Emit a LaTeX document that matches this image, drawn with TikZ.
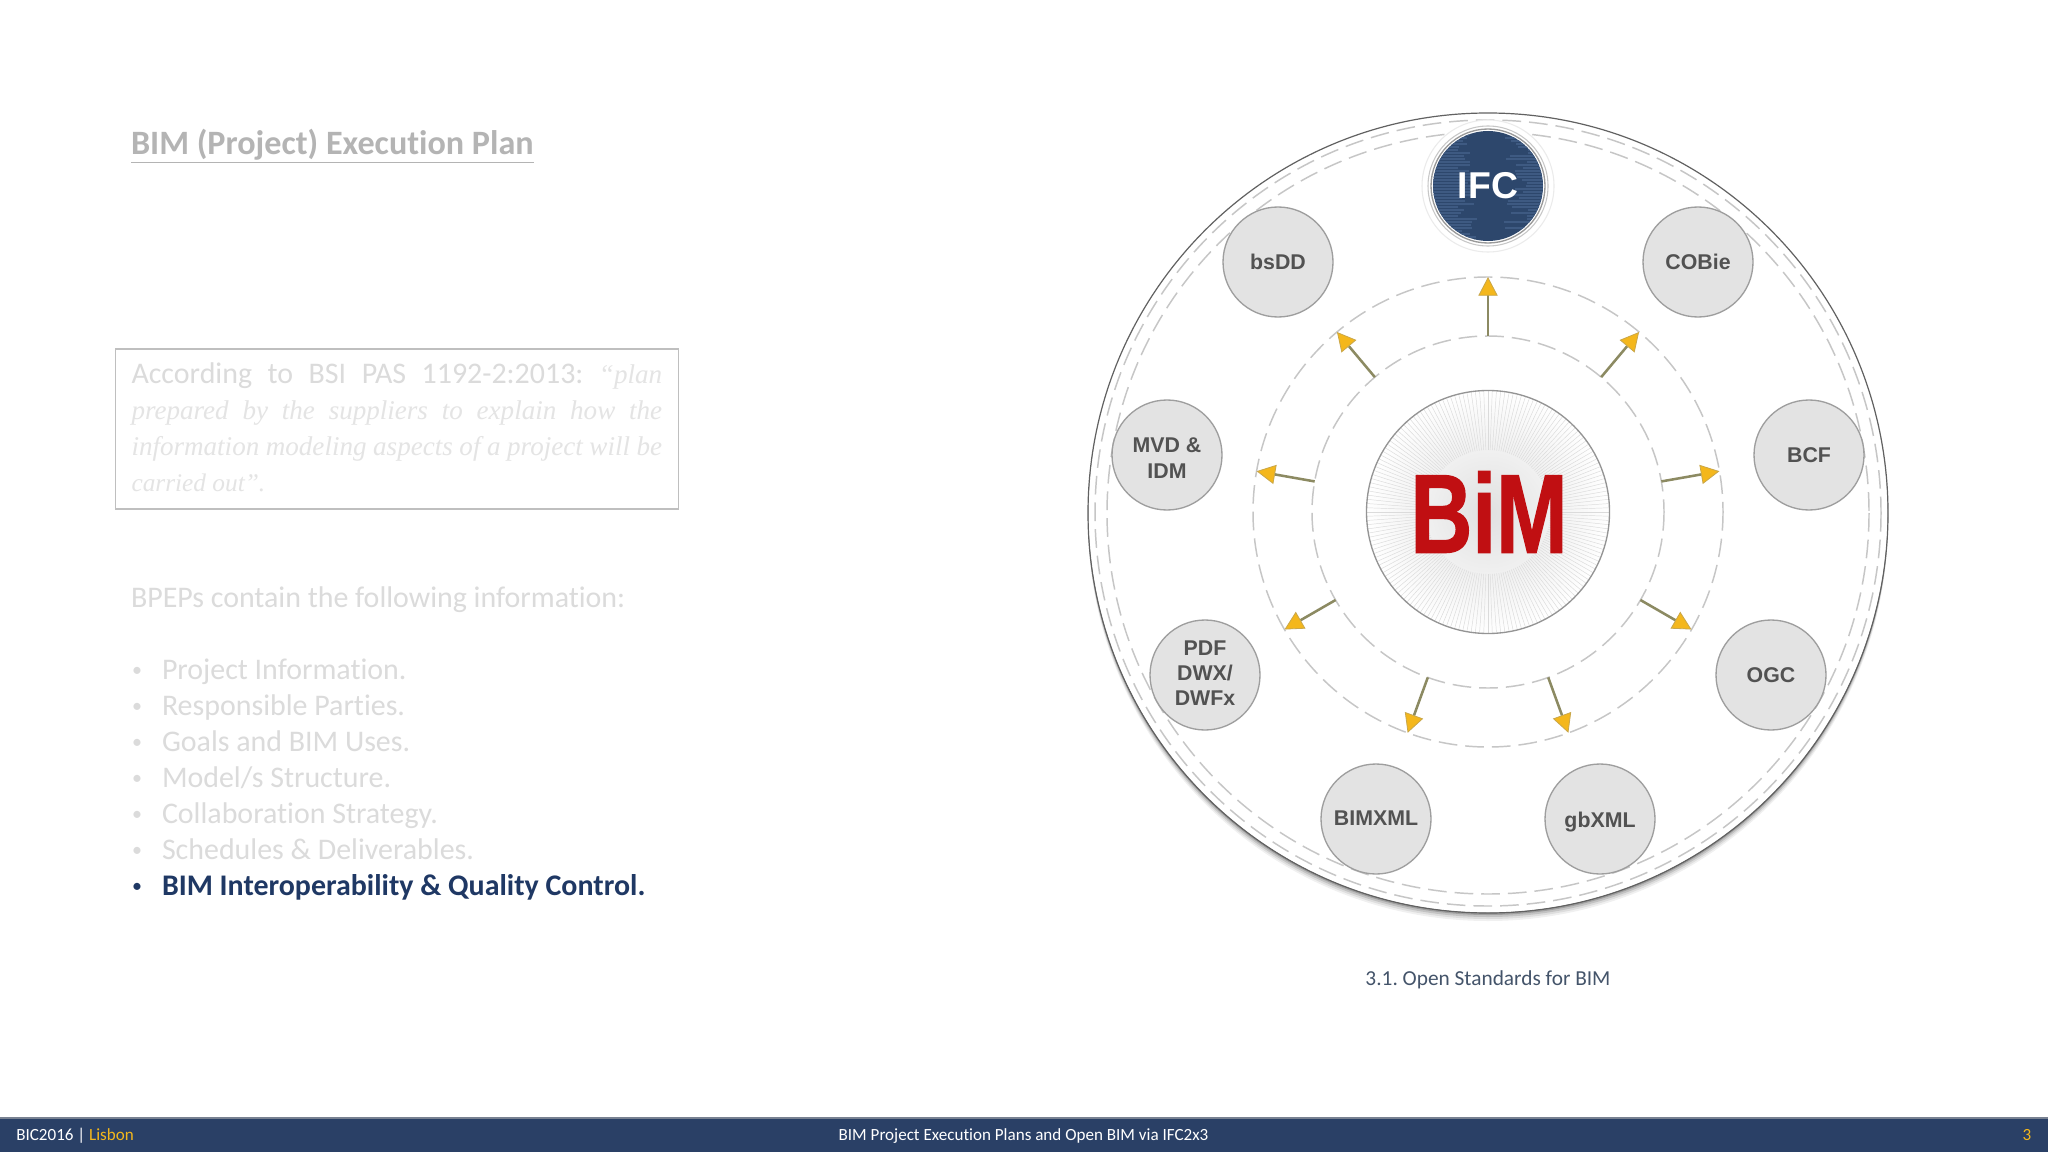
\documentclass[tikz,border=0pt]{standalone}
\usepackage{fontspec}
\usepackage{graphicx}
\setmainfont[RawFeature={-liga}]{Carlito}
\newfontfamily\arialf{Liberation Sans}
\newfontfamily\bimf[UprightFont=* Bold,FakeBold=1.3]{Liberation Sans}
\newfontfamily\quotef{Liberation Serif}
\usetikzlibrary{arrows.meta,calc}
\definecolor{navy}{HTML}{1F3864}
\definecolor{foot}{HTML}{2A4066}
\definecolor{faint}{HTML}{DBDBDB}
\definecolor{faintq}{HTML}{E4E4E4}
\definecolor{titlec}{HTML}{B4B4B4}
\definecolor{dashc}{HTML}{C6C6C6}
\definecolor{capc}{HTML}{44546A}
\definecolor{gold}{HTML}{F4B71C}
\definecolor{goldline}{HTML}{C9A74A}
\definecolor{shaft}{HTML}{8C8A62}
\definecolor{bimred}{HTML}{C00F12}
\definecolor{ifcb}{HTML}{2D476C}
\definecolor{ifcl}{HTML}{3E5A82}
\newcommand{\fs}[1]{\fontsize{#1}{#1}\selectfont}
\newcommand{\qline}[1]{\makebox[398pt][s]{#1}}
\tikzset{
  txt/.style={anchor=base west,inner sep=0pt,outer sep=0pt},
  bodytxt/.style={txt,text=faint,font=\fs{22.45}},
  qtxt/.style={txt,text=faintq,font=\quotef\itshape\fs{20.3}},
  dot/.style={anchor=base,inner sep=0pt,outer sep=0pt,font=\fs{15}},
  std/.style={circle,draw=black!38,line width=1pt,fill=black!11,minimum size=82.5pt,inner sep=0pt,
     align=center,text=black!68,font=\arialf\bfseries\fs{16}},
  ring/.style={draw=dashc,line width=1.1pt,dash pattern=on 14pt off 6pt},
  arr/.style={draw=shaft,line width=1.9pt,-{Triangle[length=14pt,width=14.5pt,color=goldline,fill=gold,line width=0.6pt]}},
  foottxt/.style={inner sep=0pt,font=\fs{12.8},text=white}
}
\begin{document}
\frenchspacing
\begin{tikzpicture}[x=0.75pt,y=-0.75pt]
\useasboundingbox[fill=white] (0,0) rectangle (2048,1152);
% footer
\fill[foot] (0,1118) rectangle (2048,1152);
\draw[black!30!foot!60!white,line width=0.8pt] (0,1118) -- (2048,1118);
\node[foottxt,anchor=base west] (ftl) at (16,1140) {BIC2016 | \textcolor{gold}{Lisbon}};
\node[foottxt,anchor=base] (ftc) at (1023.5,1140) {BIM Project Execution Plans and Open BIM via IFC2x3};
\node[foottxt,anchor=base,text=gold] (ftr) at (2027,1140) {3};
% left text
\node[txt,text=titlec,font=\bfseries\fs{25.6}] (title) at (131,155) {\underline{BIM (Project) Execution Plan}};
\node[draw=black!25,line width=1.2pt,minimum width=422.5pt,minimum height=120pt,inner sep=0pt] (qbox) at (397,429) {};
\node[bodytxt] (q1) at (131.5,383.5) {\qline{According to BSI PAS 1192-2:2013: \textcolor{faintq}{\quotef\itshape\fs{20.3}“plan}}};
\node[qtxt] (q2) at (131.5,419.5) {\qline{prepared by the suppliers to explain how the}};
\node[qtxt] (q3) at (131.5,455.5) {\qline{information modeling aspects of a project will be}};
\node[qtxt,font=\quotef\itshape\fs{19}] (q4) at (131.5,491.5) {carried out”.};
\node[bodytxt] (bpep) at (131,607) {BPEPs contain the following information:};
\foreach \i/\yy/\t in {1/679/Project Information.,2/715/Responsible Parties.,3/751/Goals and BIM Uses.,4/787/{Model/s Structure.},5/823/Collaboration Strategy.,6/859/Schedules \& Deliverables.}{
  \node[bodytxt] (b\i) at (162,\yy) {\t};
  \node[dot,text=faint] (d\i) at (137,\yy-3) {•};
}
\node[txt,text=navy,font=\bfseries\fs{22.45}] (b7) at (162,895) {BIM Interoperability \& Quality Control.};
\node[dot,text=navy] (d7) at (137,892) {•};
\node[inner sep=0pt,anchor=base,text=capc,font=\fs{16}] (cap) at (1488,985) {3.1. Open Standards for BIM};
% wheel
\coordinate (c) at (1488,513);
\coordinate (ci) at (1488,512);
\foreach \k/\o in {8/0.06,6/0.08,4/0.12,2/0.18}{
  \fill[black,opacity=\o] ($(c)+(0,\k)$) circle (400);
}
\fill[white] (c) circle (399.5);
\draw[black!62,line width=0.9pt] (c) circle (400);
\draw[ring] (c) circle (393);
\draw[ring] (c) circle (381);
\draw[ring] (ci) circle (235);
\draw[ring] (ci) circle (176);
% hub
\shade[inner color=black!12,outer color=white] (ci) circle (121.5);
\foreach \a in {0,2,...,358}{
  \draw[black!14,line width=0.35pt] ($(ci)+(\a:62)$) -- ($(ci)+(\a:121)$);
}
\draw[black!42,line width=1pt] (ci) circle (121.5);
\node[inner sep=0pt,text=bimred,font=\bimf\fs{84}] (bim) at (1489,512) {\scalebox{0.765}[1]{BiM}};
% arrows
\foreach \n/\a in {1/-90,2/-50,3/-10,4/30,5/70,6/110,7/150,8/190,9/230}{
  \coordinate (s\n) at ($(ci)+(\a:176)$);
  \coordinate (e\n) at ($(ci)+(\a:235)$);
  \draw[arr] (s\n) -- (e\n);
}
% IFC
\fill[white] (1488,186) circle (66);
\draw[black!8,line width=0.8pt] (1488,186) circle (66);
\draw[black!22,line width=0.8pt] (1488,186) circle (60);
\draw[black!40,line width=1pt] (1488,186) circle (57);
\fill[ifcb] (1488,186) circle (55);
\begin{scope}
\clip (1488,186) circle (55);
\pgfmathsetseed{7}
\foreach \yy in {131,134,...,241}{
  \pgfmathsetmacro{\wa}{1433+random(25,45)}
  \pgfmathsetmacro{\wb}{1543-random(15,40)}
  \fill[ifcl] (1433,\yy) rectangle (\wa,\yy+1.6);
  \fill[ifcl] (\wb,\yy) rectangle (1543,\yy+1.6);
}
\end{scope}
\node[circle,minimum size=82.5pt,inner sep=0pt,text=white,font=\arialf\bfseries\fs{28}] (ifc) at (1488,186) {IFC};
% standards
\node[std] (bsdd) at (1278,262) {bsDD};
\node[std] (cobie) at (1698,262) {COBie};
\node[std] (mvd) at (1167,455) {\rule{0pt}{15.5pt}MVD \&\\[3pt]IDM};
\node[std] (bcf) at (1809,455) {BCF};
\node[std] (pdf) at (1205,675) {PDF\\[3pt]DWX/\\[3pt]DWFx\rule[-3pt]{0pt}{1pt}};
\node[std] (ogc) at (1771,675) {OGC};
\node[std] (bimxml) at (1376,819) {BIMXML\rule[-2pt]{0pt}{1pt}};
\node[std] (gbxml) at (1600,819) {\rule{0pt}{15.6pt}gbXML};
\end{tikzpicture}
\end{document}
